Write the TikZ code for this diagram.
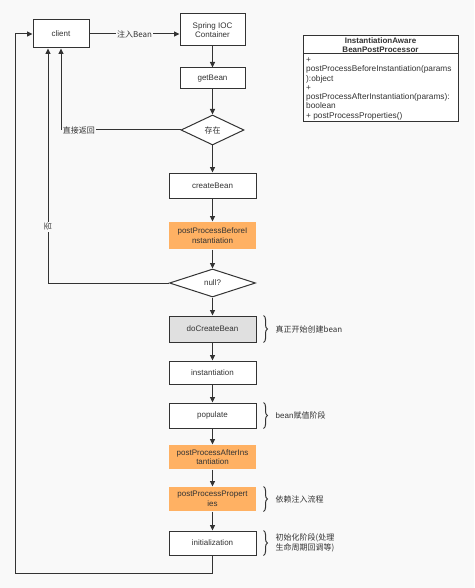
\documentclass[tikz,border=0pt]{standalone}
\usepackage{fontspec}
\setmainfont{Liberation Sans}
\newfontfamily\cjk{Noto Sans CJK SC}
\usetikzlibrary{shapes.geometric,arrows.meta,positioning,decorations.pathreplacing}
\definecolor{bgcol}{RGB}{249,249,249}
\definecolor{linecol}{RGB}{51,51,51}
\definecolor{orangefill}{RGB}{255,177,99}
\definecolor{grayfill}{RGB}{224,224,224}

\begin{document}
\begin{tikzpicture}[x=1pt,y=-1pt,
	font=\fontsize{8}{9.5}\selectfont, text=linecol,
	box/.style={draw=linecol,line width=1pt,fill=white,minimum width=87pt,minimum height=25pt,align=center,inner sep=1pt},
	hook/.style={box,fill=orangefill,draw=none},
	check/.style={diamond,draw=linecol,line width=1pt,fill=white,inner sep=0pt,minimum width=86pt,minimum height=28pt},
	flow/.style={draw=linecol,line width=1pt,-{Triangle[length=5.5pt,width=5pt]}},
	phase/.style={draw=linecol,line width=1pt,decorate,decoration={brace,amplitude=4pt}},
	note/.style={anchor=west,align=left,inner sep=0pt},
	tag/.style={fill=bgcol,inner sep=1pt}]
	
		\fill[bgcol] (0,0) rectangle (474,588);
		\useasboundingbox (0,0) rectangle (474,588);
		
		% main flow
		\node[box,minimum width=56pt,minimum height=28pt] (client) at (61,34) {client};
		\node[box,minimum width=65pt,minimum height=32pt] (ioc) at (212.5,30) {Spring IOC\\Container};
		\node[box,minimum width=65pt,minimum height=21pt] (getbean) at (212.5,78.5) {getBean};
		\node[check,minimum width=63pt,minimum height=30pt] (exist) at (212.5,130) {\cjk{存在}};
		\node[box] (create) at (212.5,185.5) {createBean};
		\node[hook,minimum height=27pt] (before) at (212.5,235.5) {postProcessBeforeI\\nstantiation};
		\node[check] (null) at (212.5,283) {null?};
		\node[box,fill=grayfill,minimum height=26pt] (docreate) at (212.5,329) {doCreateBean};
		\node[box,minimum height=23pt] (inst) at (212.5,372.5) {instantiation};
		\node[box] (populate) at (212.5,415.5) {populate};
		\node[hook,minimum height=24pt] (after) at (212.5,457) {postProcessAfterIns\\tantiation};
		\node[hook,minimum height=24pt] (props) at (212.5,499) {postProcessPropert\\ies};
		\node[box,minimum height=24pt] (init) at (212.5,543) {initialization};
		\coordinate (loop) at (15,573);
		
		\draw[flow] (client) -- node[tag] {\cjk{注入}Bean} (client -| ioc.west);
		\foreach \a/\b in {ioc/getbean,getbean/exist,exist/create,create/before,before/null,null/docreate,docreate/inst,inst/populate,populate/after,after/props,props/init}
		\draw[flow] (\a) -- (\b);
		
		\draw[flow] (exist.west) -- node[tag,pos=0.85] {\cjk{直接返回}} (exist -| client) -- (client);
		\draw[flow] (null.west) -- ([xshift=-13pt]client.south |- null) -- node[tag,pos=0.24,rotate=90] {\cjk{否}} ([xshift=-13pt]client.south);
		\draw[flow] (init) -- (init |- loop) -- (loop) -- (loop |- client) -- (client);
		
		% phases
		\foreach \n/\t in {docreate/{\cjk{真正开始创建}bean},populate/{bean\cjk{赋值阶段}},props/{\cjk{依赖注入流程}},init/{\cjk{初始化阶段(处理}\\\cjk{生命周期回调等)}}}
		{
			\draw[phase] ([xshift=7pt]\n.north east) -- ([xshift=7pt]\n.south east);
			\node[note] (\n-note) at ([xshift=19pt]\n.east) {\t};
		}
		
		% interface
		\draw[draw=linecol,line width=1pt,fill=white] (303,36) rectangle (458,122);
		\draw[draw=linecol,line width=1pt] (303,54) -- (458,54);
		\node[font=\fontsize{8}{9}\selectfont\bfseries,align=center,inner sep=0pt] (head) at (380.5,45.5) {InstantiationAware\\BeanPostProcessor};
		\node[note,anchor=north west,font=\fontsize{8.3}{9.3}\selectfont] (body) at (306,57.5) {+\\postProcessBeforeInstantiation(params\\):object\\+\\postProcessAfterInstantiation(params):\\boolean\\+ postProcessProperties()};
		
\end{tikzpicture}
\end{document}
